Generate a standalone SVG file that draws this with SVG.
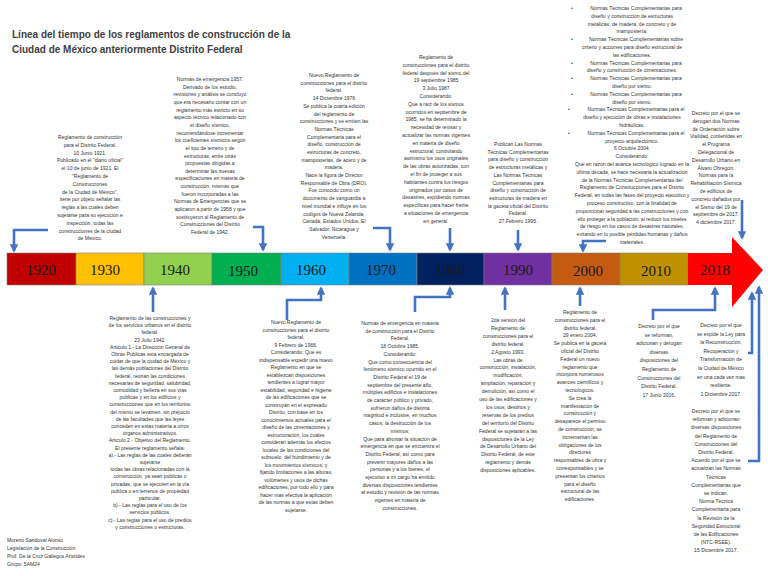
<svg xmlns="http://www.w3.org/2000/svg" width="768" height="576" viewBox="0 0 768 576">
<style>
.t{font-family:"Liberation Sans",Arial,sans-serif;font-size:5.05px;fill:#333;text-anchor:middle}
.y{font-family:"Liberation Serif","Times New Roman",serif;font-size:15px;fill:#1a1a1a;text-anchor:middle}
.c{fill:none;stroke:#4472C4;stroke-width:2.6;marker-end:url(#a)}
.s{stroke:#7f7f7f;stroke-width:0.6}
</style>
<defs><marker id="a" viewBox="0 0 10 10" refX="8" refY="5" markerWidth="3.2" markerHeight="3.2" orient="auto"><path d="M0,0 L10,5 L0,10 z" fill="#4472C4"/></marker></defs>
<rect width="768" height="576" fill="#fff"/>
<g id="title" font-family="Liberation Sans,Arial,sans-serif" font-size="10" font-weight="bold" fill="#404040">
<text x="12" y="38">Línea del tiempo de los reglamentos de construcción de la</text>
<text x="12" y="53">Ciudad de México anteriormente Distrito Federal</text>
</g>
<g id="timeline">
<rect class="s" x="7" y="253" width="69" height="32" fill="#C00000"/>
<rect class="s" x="76" y="253" width="68" height="32" fill="#FFC000"/>
<rect class="s" x="144" y="253" width="68" height="32" fill="#92D050"/>
<rect class="s" x="212" y="253" width="69" height="32" fill="#00B050"/>
<rect class="s" x="281" y="253" width="68" height="32" fill="#00B0F0"/>
<rect class="s" x="349" y="253" width="68" height="32" fill="#0070C0"/>
<rect class="s" x="417" y="253" width="67" height="32" fill="#002060"/>
<rect class="s" x="484" y="253" width="68" height="32" fill="#7030A0"/>
<rect class="s" x="552" y="253" width="68" height="32" fill="#C55A11"/>
<rect class="s" x="620" y="253" width="68" height="32" fill="#BF9000"/>
<path d="M688,253 H732 V237 L763,270 L732,307 V285 H688 Z" fill="#FF0000"/>
<text class="y" x="41" y="275">1920</text>
<text class="y" x="105" y="275">1930</text>
<text class="y" x="175" y="275">1940</text>
<text class="y" x="243" y="276">1950</text>
<text class="y" x="311" y="275">1960</text>
<text class="y" x="381" y="275">1970</text>
<text class="y" x="450" y="275">1980</text>
<text class="y" x="518" y="275">1990</text>
<text class="y" x="588" y="276">2000</text>
<text class="y" x="656" y="276">2010</text>
<text class="y" x="715" y="275">2018</text>
</g>
<g id="connectors">
<polyline class="c" points="48,230 14,230 14,251"/>
<polyline class="c" points="253,227 263,227 263,250"/>
<polyline class="c" points="373,228 390,228 390,250"/>
<polyline class="c" points="450,228 450,250"/>
<polyline class="c" points="518,230 518,250"/>
<polyline class="c" points="606,241 583,241 583,251"/>
<polyline class="c" points="742,200 742,238"/>
<polyline class="c" points="153,312 153,288"/>
<polyline class="c" points="287,320 287,300 321,300 321,288"/>
<polyline class="c" points="415,312 415,297 450,297 450,288"/>
<polyline class="c" points="505,310 505,288"/>
<polyline class="c" points="580,306 580,288"/>
<polyline class="c" points="653,320 653,310 715,310 715,288"/>
<polyline class="c" points="748,353 752,353 752,293"/>
<polyline class="c" points="748,461 759,461 759,287"/>
</g>
<g id="n1921"><text class="t" x="90" y="139"><tspan x="90">Reglamento de construcción</tspan><tspan x="90" dy="7.8">para el Distrito Federal.</tspan><tspan x="90" dy="7.8">10 Junio 1921.</tspan><tspan x="90" dy="7.8">Publicado en el "diario oficial"</tspan><tspan x="90" dy="7.8">el 10 de junio de 1921. El</tspan><tspan x="90" dy="7.8">"Reglamento de</tspan><tspan x="90" dy="7.8">Construcciones</tspan><tspan x="90" dy="7.8">de la Ciudad de México",</tspan><tspan x="90" dy="7.8">tiene por objeto señalar las</tspan><tspan x="90" dy="7.8">reglas a las cuales deben</tspan><tspan x="90" dy="7.8">sujetarse para su ejecución e</tspan><tspan x="90" dy="7.8">inspección, todas las</tspan><tspan x="90" dy="7.8">construcciones de la ciudad</tspan><tspan x="90" dy="7.8">de México.</tspan></text></g>
<g id="n1957"><text class="t" x="210" y="81"><tspan x="210">Normas de emergencia 1957.</tspan><tspan x="210" dy="7.65">Derivado de los estudio,</tspan><tspan x="210" dy="7.65">revisiones y análisis se concluyó</tspan><tspan x="210" dy="7.65">que era necesario contar con un</tspan><tspan x="210" dy="7.65">reglamento más estricto en su</tspan><tspan x="210" dy="7.65">aspecto técnico relacionado con</tspan><tspan x="210" dy="7.65">el diseño sísmico,</tspan><tspan x="210" dy="7.65">recomendándose incrementar</tspan><tspan x="210" dy="7.65">los coeficientes sísmicos según</tspan><tspan x="210" dy="7.65">el tipo de terreno y de</tspan><tspan x="210" dy="7.65">estructuras, entre otras</tspan><tspan x="210" dy="7.65">propuestas dirigidas a</tspan><tspan x="210" dy="7.65">determinar las nuevas</tspan><tspan x="210" dy="7.65">especificaciones en materia de</tspan><tspan x="210" dy="7.65">construcción, mismas que</tspan><tspan x="210" dy="7.65">fueron incorporadas a las</tspan><tspan x="210" dy="7.65">Normas de Emergencias que se</tspan><tspan x="210" dy="7.65">aplicaron a partir de 1958 y que</tspan><tspan x="210" dy="7.65">sustituyeron al Reglamento de</tspan><tspan x="210" dy="7.65">Construcciones del Distrito</tspan><tspan x="210" dy="7.65">Federal de 1942.</tspan></text></g>
<g id="n1976"><text class="t" x="334" y="77"><tspan x="334">Nuevo Reglamento de</tspan><tspan x="334" dy="7.7">construcciones para el distrito</tspan><tspan x="334" dy="7.7">federal.</tspan><tspan x="334" dy="7.7">14 Diciembre 1976</tspan><tspan x="334" dy="7.7">Se publica la cuarta edición</tspan><tspan x="334" dy="7.7">del reglamento de</tspan><tspan x="334" dy="7.7">construcciones y se emiten las</tspan><tspan x="334" dy="7.7">Normas Técnicas</tspan><tspan x="334" dy="7.7">Complementaria para el</tspan><tspan x="334" dy="7.7">diseño, construcción de</tspan><tspan x="334" dy="7.7">estructuras de concreto,</tspan><tspan x="334" dy="7.7">mamposterias, de acero y de</tspan><tspan x="334" dy="7.7">madera.</tspan><tspan x="334" dy="7.7">Nace la figura de Director</tspan><tspan x="334" dy="7.7">Responsable de Obra (DRO).</tspan><tspan x="334" dy="7.7">Fue conocido como un</tspan><tspan x="334" dy="7.7">documento de vanguardia a</tspan><tspan x="334" dy="7.7">nivel mundial e influye en los</tspan><tspan x="334" dy="7.7">códigos de Nueva Zelanda,</tspan><tspan x="334" dy="7.7">Canadá, Estados Unidos, El</tspan><tspan x="334" dy="7.7">Salvador, Nicaragua y</tspan><tspan x="334" dy="7.7">Venezuela.</tspan></text></g>
<g id="n1987"><text class="t" x="436" y="59"><tspan x="436">Reglamento de</tspan><tspan x="436" dy="7.8">construcciones para el distrito</tspan><tspan x="436" dy="7.8">federal después del sismo del</tspan><tspan x="436" dy="7.8">19 septiembre 1985</tspan><tspan x="436" dy="7.8">3 Julio 1987</tspan><tspan x="436" dy="7.8">Considerando:</tspan><tspan x="436" dy="7.8">Que a raíz de los sismos</tspan><tspan x="436" dy="7.8">ocurridos en septiembre de</tspan><tspan x="436" dy="7.8">1985, se ha determinado la</tspan><tspan x="436" dy="7.8">necesidad de revisar y</tspan><tspan x="436" dy="7.8">actualizar las normas vigentes</tspan><tspan x="436" dy="7.8">en materia de diseño</tspan><tspan x="436" dy="7.8">estructural, controlando</tspan><tspan x="436" dy="7.8">asimismo los usos originales</tspan><tspan x="436" dy="7.8">de las obras autorizadas, con</tspan><tspan x="436" dy="7.8">el fin de proteger a sus</tspan><tspan x="436" dy="7.8">habitantes contra los riesgos</tspan><tspan x="436" dy="7.8">originados por casos de</tspan><tspan x="436" dy="7.8">desastres, expidiendo normas</tspan><tspan x="436" dy="7.8">específicas para hacer frente</tspan><tspan x="436" dy="7.8">a situaciones de emergencia</tspan><tspan x="436" dy="7.8">en general.</tspan></text></g>
<g id="n1995"><text class="t" x="518" y="146"><tspan x="518">Publican Las Normas</tspan><tspan x="518" dy="7.7">Técnicas Complementarias</tspan><tspan x="518" dy="7.7">para diseño y construcción</tspan><tspan x="518" dy="7.7">de estructuras metálicas y</tspan><tspan x="518" dy="7.7">Las Normas Técnicas</tspan><tspan x="518" dy="7.7">Complementarias para</tspan><tspan x="518" dy="7.7">diseño y construcción de</tspan><tspan x="518" dy="7.7">estructuras de madera en</tspan><tspan x="518" dy="7.7">la gaceta oficial del Distrito</tspan><tspan x="518" dy="7.7">Federal.</tspan><tspan x="518" dy="7.7">27 Febrero 1995.</tspan></text></g>
<g id="n2004b"><text class="t" x="632" y="10"><tspan x="636">Normas Técnicas Complementarias para</tspan><tspan x="632" dy="7.8">diseño y construcción de estructuras</tspan><tspan x="632" dy="7.8">metálicas, de madera, de concreto y de</tspan><tspan x="632" dy="7.8">mampostería.</tspan><tspan x="636" dy="7.8">Normas Técnicas Complementarias sobre</tspan><tspan x="632" dy="7.8">criterio y acciones para diseño estructural de</tspan><tspan x="632" dy="7.8">las edificaciones.</tspan><tspan x="636" dy="7.8">Normas Técnicas Complementarias para</tspan><tspan x="632" dy="7.8">diseño y construcción de cimentaciones.</tspan><tspan x="636" dy="7.8">Normas Técnicas Complementarias para</tspan><tspan x="632" dy="7.8">diseño por viento.</tspan><tspan x="636" dy="7.8">Normas Técnicas Complementarias para</tspan><tspan x="632" dy="7.8">diseño por sismo.</tspan><tspan x="636" dy="7.8">Normas Técnicas Complementarias para el</tspan><tspan x="632" dy="7.8">diseño y ejecución de obras e instalaciones</tspan><tspan x="632" dy="7.8">hidráulicas.</tspan><tspan x="636" dy="7.8">Normas Técnicas Complementarias para el</tspan><tspan x="632" dy="7.8">proyecto arquitectónico.</tspan><tspan x="632" dy="7.8">6 Octubre 2004.</tspan><tspan x="632" dy="7.8">Considerando:</tspan><tspan x="632" dy="7.8">Que en razón del avance tecnológico logrado en la</tspan><tspan x="632" dy="7.8">última década, se hace necesaria la actualización</tspan><tspan x="632" dy="7.8">de la Normas Técnicas Complementarias del</tspan><tspan x="632" dy="7.8">Reglamento de Construcciones para el Distrito</tspan><tspan x="632" dy="7.8">Federal, en todas las fases del proyecto ejecutivo y</tspan><tspan x="632" dy="7.8">proceso constructivo, con la finalidad de</tspan><tspan x="632" dy="7.8">proporcionar seguridad a las construcciones y con</tspan><tspan x="632" dy="7.8">ello proteger a la población, al reducir los niveles</tspan><tspan x="632" dy="7.8">de riesgo en los casos de desastres naturales,</tspan><tspan x="632" dy="7.8">evitando en lo posible pérdidas humanas y daños</tspan><tspan x="632" dy="7.8">materiales.</tspan></text>
<text class="t" x="572" y="10">•<tspan x="572" dy="31.2">•</tspan><tspan x="572" dy="23.4">•</tspan><tspan x="572" dy="15.6">•</tspan><tspan x="572" dy="15.6">•</tspan><tspan x="569" dy="15.6">•</tspan><tspan x="569" dy="23.4">•</tspan></text></g>
<g id="n2017a"><text class="t" x="716" y="115"><tspan x="716">Decreto por el que se</tspan><tspan x="716" dy="7.8">derogan dos Normas</tspan><tspan x="716" dy="7.8">de Ordenación sobre</tspan><tspan x="716" dy="7.8">Vialidad, contenidas en</tspan><tspan x="716" dy="7.8">el Programa</tspan><tspan x="716" dy="7.8">Delegacional de</tspan><tspan x="716" dy="7.8">Desarrollo Urbano en</tspan><tspan x="716" dy="7.8">Álvaro Obregón.</tspan><tspan x="716" dy="7.8">Normas para la</tspan><tspan x="716" dy="7.8">Rehabilitación Sísmica</tspan><tspan x="716" dy="7.8">de edificios de</tspan><tspan x="716" dy="7.8">concreto dañados por</tspan><tspan x="716" dy="7.8">el Sismo del 19 de</tspan><tspan x="716" dy="7.8">septiembre de 2017.</tspan><tspan x="716" dy="7.8">4 diciembre 2017.</tspan></text></g>
<g id="n1942"><text class="t" x="150" y="320"><tspan x="150">Reglamento de las construcciones y</tspan><tspan x="150" dy="7.2">de los servicios urbanos en el distrito</tspan><tspan x="150" dy="7.2">federal.</tspan><tspan x="150" dy="7.2">23 Julio 1942.</tspan><tspan x="150" dy="7.2">Articulo 1.- La Dirección General de</tspan><tspan x="150" dy="7.2">Obras Publicas esta encargada de</tspan><tspan x="150" dy="7.2">cuidar de que la ciudad de México y</tspan><tspan x="150" dy="7.2">las demás poblaciones del Distrito</tspan><tspan x="150" dy="7.2">federal, reúnan las condiciones</tspan><tspan x="150" dy="7.2">necesarias de seguridad, salubridad,</tspan><tspan x="150" dy="7.2">comodidad y belleza en sus vías</tspan><tspan x="150" dy="7.2">publicas y en los edificios y</tspan><tspan x="150" dy="7.2">construcciones que en los territorios</tspan><tspan x="150" dy="7.2">del mismo se levanten, sin prejuicio</tspan><tspan x="150" dy="7.2">de las facultades que las leyes</tspan><tspan x="150" dy="7.2">conceden en estas materia a otros</tspan><tspan x="150" dy="7.2">órganos administrativos.</tspan><tspan x="150" dy="7.2">Articulo 2.- Objetivo del Reglamento.</tspan><tspan x="150" dy="7.2">El presente reglamento señala:</tspan><tspan x="150" dy="7.2">a).- Las reglas de las cuales deberán</tspan><tspan x="150" dy="7.2">sujetarse</tspan><tspan x="150" dy="7.2">todas las obras relacionadas con la</tspan><tspan x="150" dy="7.2">construcción, ya sean publicas o</tspan><tspan x="150" dy="7.2">privadas, que se ejecuten en la vía</tspan><tspan x="150" dy="7.2">publica o en terrenos de propiedad</tspan><tspan x="150" dy="7.2">particular.</tspan><tspan x="150" dy="7.2">b).- Las reglas para el uso de los</tspan><tspan x="150" dy="7.2">servicios públicos.</tspan><tspan x="150" dy="7.2">c).- Las reglas para el uso de predios</tspan><tspan x="150" dy="7.2">y construcciones o estructuras.</tspan></text></g>
<g id="author"><text class="t" x="7" y="542" style="text-anchor:start"><tspan x="7">Moreno Sandoval Alonso</tspan><tspan x="7" dy="8">Legislación de la Construcción</tspan><tspan x="7" dy="8">Prof. De la Cruz Gallegos Aristides</tspan><tspan x="7" dy="8">Grupo: 5AM24</tspan></text></g>
<g id="n1966"><text class="t" x="296" y="324"><tspan x="296">Nuevo Reglamento de</tspan><tspan x="296" dy="7.5">construcciones para el distrito</tspan><tspan x="296" dy="7.5">federal.</tspan><tspan x="296" dy="7.5">9 Febrero de 1966.</tspan><tspan x="296" dy="7.5">Considerando: Que es</tspan><tspan x="296" dy="7.5">indispensable expedir una nuevo</tspan><tspan x="296" dy="7.5">Reglamento en que se</tspan><tspan x="296" dy="7.5">establezcan disposiciones</tspan><tspan x="296" dy="7.5">tendientes a lograr mayor</tspan><tspan x="296" dy="7.5">estabilidad, seguridad e higiene</tspan><tspan x="296" dy="7.5">de las edificaciones que se</tspan><tspan x="296" dy="7.5">construyan en el expresado</tspan><tspan x="296" dy="7.5">Distrito, con base en los</tspan><tspan x="296" dy="7.5">conocimientos actuales para el</tspan><tspan x="296" dy="7.5">diseño de las cimentaciones y</tspan><tspan x="296" dy="7.5">estructuración, los cuales</tspan><tspan x="296" dy="7.5">consideran además los efectos</tspan><tspan x="296" dy="7.5">locales de las condiciones del</tspan><tspan x="296" dy="7.5">subsuelo, del hundimiento y de</tspan><tspan x="296" dy="7.5">los movimientos sísmicos; y</tspan><tspan x="296" dy="7.5">fijando limitaciones a las alturas,</tspan><tspan x="296" dy="7.5">volúmenes y usos de dichas</tspan><tspan x="296" dy="7.5">edificaciones; por todo ello y para</tspan><tspan x="296" dy="7.5">hacer mas efectiva la aplicación</tspan><tspan x="296" dy="7.5">de las normas a que estas deben</tspan><tspan x="296" dy="7.5">sujetarse.</tspan></text></g>
<g id="n1985"><text class="t" x="400" y="325"><tspan x="400">Normas de emergencia en materia</tspan><tspan x="400" dy="7.7">de construcción para el Distrito</tspan><tspan x="400" dy="7.7">Federal.</tspan><tspan x="400" dy="7.7">18 Octubre 1985.</tspan><tspan x="400" dy="7.7">Considerando:</tspan><tspan x="400" dy="7.7">Que como consecuencia del</tspan><tspan x="400" dy="7.7">fenómeno sísmico ocurrido en el</tspan><tspan x="400" dy="7.7">Distrito Federal el 19 de</tspan><tspan x="400" dy="7.7">septiembre del presente año,</tspan><tspan x="400" dy="7.7">múltiples edificios e instalaciones</tspan><tspan x="400" dy="7.7">de carácter público y privado,</tspan><tspan x="400" dy="7.7">sufrieron daños de distinta</tspan><tspan x="400" dy="7.7">magnitud e inclusive, en muchos</tspan><tspan x="400" dy="7.7">casos, la destrucción de los</tspan><tspan x="400" dy="7.7">mismos;</tspan><tspan x="400" dy="7.7">Que para afrontar la situación de</tspan><tspan x="400" dy="7.7">emergencia en que se encuentra el</tspan><tspan x="400" dy="7.7">Distrito Federal, así como para</tspan><tspan x="400" dy="7.7">prevenir mayores daños a las</tspan><tspan x="400" dy="7.7">personas y a los bienes, el</tspan><tspan x="400" dy="7.7">ejecutivo a mi cargo ha emitido</tspan><tspan x="400" dy="7.7">diversas disposiciones tendientes</tspan><tspan x="400" dy="7.7">al estudio y revisión de las normas</tspan><tspan x="400" dy="7.7">vigentes en materia de</tspan><tspan x="400" dy="7.7">construcciones.</tspan></text></g>
<g id="n1993"><text class="t" x="508" y="322"><tspan x="508">2da versión del</tspan><tspan x="508" dy="7.9">Reglamento de</tspan><tspan x="508" dy="7.9">construcciones para el</tspan><tspan x="508" dy="7.9">distrito federal.</tspan><tspan x="508" dy="7.9">2 Agosto 1993.</tspan><tspan x="508" dy="7.9">Las obras de</tspan><tspan x="508" dy="7.9">construcción, instalación,</tspan><tspan x="508" dy="7.9">modificación,</tspan><tspan x="508" dy="7.9">ampliación, reparación y</tspan><tspan x="508" dy="7.9">demolición, así como el</tspan><tspan x="508" dy="7.9">uso de las edificaciones y</tspan><tspan x="508" dy="7.9">los usos, destinos y</tspan><tspan x="508" dy="7.9">reservas de los predios</tspan><tspan x="508" dy="7.9">del territorio del Distrito</tspan><tspan x="508" dy="7.9">Federal se sujetarán a las</tspan><tspan x="508" dy="7.9">disposiciones de la Ley</tspan><tspan x="508" dy="7.9">de Desarrollo Urbano del</tspan><tspan x="508" dy="7.9">Distrito Federal, de este</tspan><tspan x="508" dy="7.9">reglamento y demás</tspan><tspan x="508" dy="7.9">disposiciones aplicables.</tspan></text></g>
<g id="n2004a"><text class="t" x="580" y="314"><tspan x="580">Reglamento de</tspan><tspan x="580" dy="7.8">construcciones para el</tspan><tspan x="580" dy="7.8">distrito federal.</tspan><tspan x="580" dy="7.8">29 enero 2004.</tspan><tspan x="580" dy="7.8">Se publica en la gaceta</tspan><tspan x="580" dy="7.8">oficial del Distrito</tspan><tspan x="580" dy="7.8">Federal un nuevo</tspan><tspan x="580" dy="7.8">reglamento que</tspan><tspan x="580" dy="7.8">incorpora numerosos</tspan><tspan x="580" dy="7.8">avances científicos y</tspan><tspan x="580" dy="7.8">tecnológicos.</tspan><tspan x="580" dy="7.8">Se crea la</tspan><tspan x="580" dy="7.8">manifestación de</tspan><tspan x="580" dy="7.8">construcción y</tspan><tspan x="580" dy="7.8">desaparece el permiso</tspan><tspan x="580" dy="7.8">de construcción; se</tspan><tspan x="580" dy="7.8">incrementan las</tspan><tspan x="580" dy="7.8">obligaciones de los</tspan><tspan x="580" dy="7.8">directores</tspan><tspan x="580" dy="7.8">responsables de obra y</tspan><tspan x="580" dy="7.8">corresponsables y se</tspan><tspan x="580" dy="7.8">presentan los criterios</tspan><tspan x="580" dy="7.8">para el diseño</tspan><tspan x="580" dy="7.8">estructural de las</tspan><tspan x="580" dy="7.8">edificaciones.</tspan></text></g>
<g id="n2016"><text class="t" x="659" y="328"><tspan x="659">Decreto por el que</tspan><tspan x="659" dy="8.6">se reforman,</tspan><tspan x="659" dy="8.6">adicionan y derogan</tspan><tspan x="659" dy="8.6">diversas</tspan><tspan x="659" dy="8.6">disposiciones del</tspan><tspan x="659" dy="8.6">Reglamento de</tspan><tspan x="659" dy="8.6">Construcciones del</tspan><tspan x="659" dy="8.6">Distrito Federal.</tspan><tspan x="659" dy="8.6">17 Junio 2016.</tspan></text></g>
<g id="n2017b"><text class="t" x="721" y="327"><tspan x="721">Decreto por el que</tspan><tspan x="721" dy="8.6">se expide la Ley para</tspan><tspan x="721" dy="8.6">la Reconstrucción,</tspan><tspan x="721" dy="8.6">Recuperación y</tspan><tspan x="721" dy="8.6">Transformación de</tspan><tspan x="721" dy="8.6">la Ciudad de México</tspan><tspan x="721" dy="8.6">en una cada vez mas</tspan><tspan x="721" dy="8.6">resiliente.</tspan><tspan x="721" dy="8.6">1 Diciembre 2017.</tspan></text></g>
<g id="n2017c"><text class="t" x="716" y="413"><tspan x="716">Decreto por el que se</tspan><tspan x="716" dy="8.2">reforman y adicionan</tspan><tspan x="716" dy="8.2">diversas disposiciones</tspan><tspan x="716" dy="8.2">del Reglamento de</tspan><tspan x="716" dy="8.2">Construcciones del</tspan><tspan x="716" dy="8.2">Distrito Federal.</tspan><tspan x="716" dy="8.2">Acuerdo por el que se</tspan><tspan x="716" dy="8.2">actualizan las Normas</tspan><tspan x="716" dy="8.2">Técnicas</tspan><tspan x="716" dy="8.2">Complementarias que</tspan><tspan x="716" dy="8.2">se indican.</tspan><tspan x="716" dy="8.2">Norma Técnica</tspan><tspan x="716" dy="8.2">Complementaria para</tspan><tspan x="716" dy="8.2">la Revisión de la</tspan><tspan x="716" dy="8.2">Seguridad Estructural</tspan><tspan x="716" dy="8.2">de las Edificaciones</tspan><tspan x="716" dy="8.2">(NTC-RSEE).</tspan><tspan x="716" dy="8.2">15 Diciembre 2017.</tspan></text></g>
</svg>
